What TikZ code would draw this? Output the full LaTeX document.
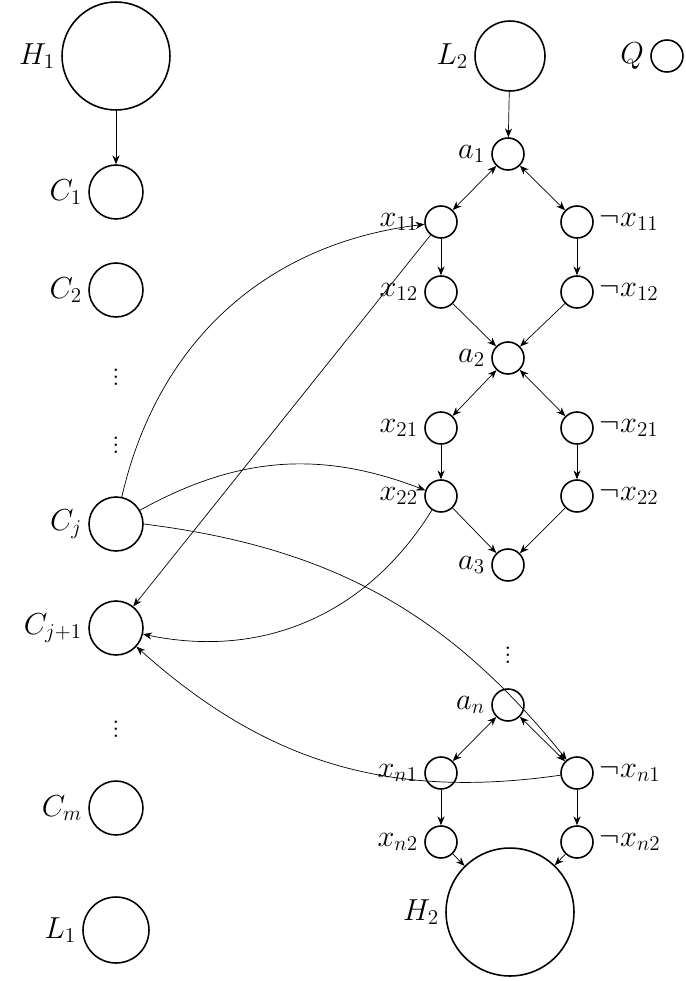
\documentclass[tikz,border=0pt]{standalone}
\usetikzlibrary{arrows.meta}
\begin{document}
\begin{tikzpicture}[x=0.02cm,y=-0.02cm,
 v/.style={draw,circle,line width=0.9pt,inner sep=0pt,minimum size=#1*0.04cm},
 v/.default=16,
 lab/.style={label={[label distance=0pt]left:{\LARGE $#1$}}},
 rlab/.style={label={[label distance=0pt]right:{\LARGE $#1$}}},
 e/.style={-{Stealth[length=5pt,width=4pt]},thin},
 d/.style={{Stealth[length=5pt,width=4pt]}-{Stealth[length=5pt,width=4pt]},thin},
 dd/.style={inner sep=0pt,font=\LARGE}]
\useasboundingbox (0,0) rectangle (686,981);
\node[v=54,lab={H_1}] (H1) at (116,56) {};
\node[v=27,lab={C_1}] (C1) at (116,192) {};
\node[v=27,lab={C_2}] (C2) at (116,290) {};
\node[v=27,lab={C_j}] (Cj) at (116,524) {};
\node[v=27,lab={C_{j+1}}] (Cj1) at (116,628) {};
\node[v=27,lab={C_m}] (Cm) at (116,808) {};
\node[v=33,lab={L_1}] (L1) at (116,930) {};
\node[dd] (d1) at (116,372) {$\vdots$};
\node[dd] (d2) at (116,440) {$\vdots$};
\node[dd] (d3) at (116,724) {$\vdots$};
\node[dd] (d4) at (508,650) {$\vdots$};
\node[v=35,lab={L_2}] (L2) at (510,56) {};
\node[v=16,lab={Q}] (Q) at (667,56) {};
\node[v,lab={a_1}] (a1) at (508,154) {};
\node[v,lab={x_{11}}] (x11) at (441,222) {};
\node[v,rlab={\neg x_{11}}] (n11) at (577,222) {};
\node[v,lab={x_{12}}] (x12) at (441,292) {};
\node[v,rlab={\neg x_{12}}] (n12) at (577,292) {};
\node[v,lab={a_2}] (a2) at (508,358) {};
\node[v,lab={x_{21}}] (x21) at (441,428) {};
\node[v,rlab={\neg x_{21}}] (n21) at (577,428) {};
\node[v,lab={x_{22}}] (x22) at (441,496) {};
\node[v,rlab={\neg x_{22}}] (n22) at (577,496) {};
\node[v,lab={a_3}] (a3) at (508,565) {};
\node[v,lab={a_n}] (an) at (508,705) {};
\node[v,lab={x_{n1}}] (xn1) at (441,773) {};
\node[v,rlab={\neg x_{n1}}] (nn1) at (577,773) {};
\node[v,lab={x_{n2}}] (xn2) at (441,842) {};
\node[v,rlab={\neg x_{n2}}] (nn2) at (577,842) {};
\node[v=64,lab={H_2}] (H2) at (510,912) {};
\draw[e] (H1)--(C1);
\draw[e] (L2)--(a1);
\draw[d] (a1)--(x11); \draw[d] (a1)--(n11);
\draw[e] (x11)--(x12); \draw[e] (n11)--(n12);
\draw[e] (x12)--(a2); \draw[e] (n12)--(a2);
\draw[d] (a2)--(x21); \draw[d] (a2)--(n21);
\draw[e] (x21)--(x22); \draw[e] (n21)--(n22);
\draw[e] (x22)--(a3); \draw[e] (n22)--(a3);
\draw[d] (an)--(xn1); \draw[d] (an)--(nn1);
\draw[e] (xn1)--(xn2); \draw[e] (nn1)--(nn2);
\draw[e] (xn2)--(H2); \draw[e] (nn2)--(H2);
\draw[e] (Cj) to[bend left=35] (x11);
\draw[e] (Cj) to[bend left=25] (x22);
\draw[e] (Cj.east) to[bend left=22] (nn1);
\draw[e] (x11)--(Cj1);
\draw[e] (x22) to[bend left=35] (Cj1);
\draw[e] (nn1) to[bend left=25] (Cj1);
\end{tikzpicture}
\end{document}
